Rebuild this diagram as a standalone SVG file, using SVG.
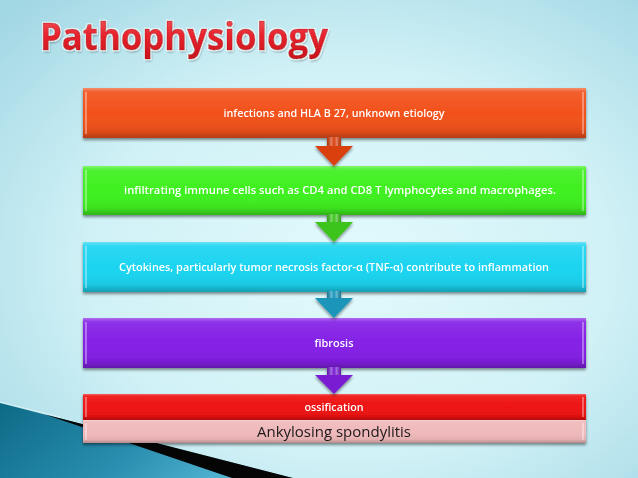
<svg xmlns="http://www.w3.org/2000/svg" width="638" height="478" viewBox="0 0 638 478">
<defs>
  <radialGradient id="bg" cx="0.55" cy="0.55" r="0.75">
    <stop offset="0" stop-color="#e2fafc"/>
    <stop offset="0.55" stop-color="#d0f1f6"/>
    <stop offset="1" stop-color="#a2d7e4"/>
  </radialGradient>
  <linearGradient id="teal" x1="0" y1="0" x2="1" y2="0.3">
    <stop offset="0" stop-color="#0d6a86"/>
    <stop offset="0.6" stop-color="#2a8fb0"/>
    <stop offset="1" stop-color="#55b5d3"/>
  </linearGradient>
  <linearGradient id="titleFill" x1="0" y1="0" x2="0" y2="1">
    <stop offset="0" stop-color="#f4636a"/>
    <stop offset="0.5" stop-color="#e7232d"/>
    <stop offset="1" stop-color="#c4101a"/>
  </linearGradient>
  <linearGradient id="gloss" x1="0" y1="0" x2="0" y2="1">
    <stop offset="0" stop-color="#fff" stop-opacity="0.35"/>
    <stop offset="0.08" stop-color="#fff" stop-opacity="0.08"/>
    <stop offset="0.5" stop-color="#fff" stop-opacity="0"/>
    <stop offset="0.85" stop-color="#000" stop-opacity="0.06"/>
    <stop offset="1" stop-color="#000" stop-opacity="0.25"/>
  </linearGradient>
  <linearGradient id="shaftGloss" x1="0" y1="0" x2="1" y2="0">
    <stop offset="0" stop-color="#000" stop-opacity="0.15"/>
    <stop offset="0.3" stop-color="#fff" stop-opacity="0.35"/>
    <stop offset="0.5" stop-color="#fff" stop-opacity="0"/>
    <stop offset="0.7" stop-color="#fff" stop-opacity="0.35"/>
    <stop offset="1" stop-color="#000" stop-opacity="0.15"/>
  </linearGradient>
  <filter id="shadow" x="-5%" y="-20%" width="110%" height="150%">
    <feGaussianBlur in="SourceAlpha" stdDeviation="1.5"/>
    <feOffset dx="0" dy="2" result="b"/>
    <feComponentTransfer><feFuncA type="linear" slope="0.45"/></feComponentTransfer>
    <feMerge><feMergeNode/><feMergeNode in="SourceGraphic"/></feMerge>
  </filter>
  <filter id="tshadow" x="-5%" y="-20%" width="110%" height="150%">
    <feMorphology in="SourceAlpha" operator="dilate" radius="1" result="d"/>
    <feFlood flood-color="#ffffff" flood-opacity="0.7"/>
    <feComposite in2="d" operator="in" result="glow"/>
    <feGaussianBlur in="SourceAlpha" stdDeviation="1"/>
    <feOffset dx="1" dy="1.5"/>
    <feComponentTransfer result="sh"><feFuncA type="linear" slope="0.35"/></feComponentTransfer>
    <feMerge><feMergeNode in="sh"/><feMergeNode in="glow"/><feMergeNode in="SourceGraphic"/></feMerge>
  </filter>
</defs>
<style>
  .lbl { font-family: "Open Sans", "DejaVu Sans", sans-serif; font-size: 10px; font-weight: 600; fill: #ffffff; text-anchor: middle; }
  .dark { fill: #1a1a1a; font-size: 14px; font-weight: 500; }
  .box { filter: url(#shadow); }
  .edge { fill: #ffffff; opacity: 0.35; }
  .gl { fill: url(#gloss); }
  .arrow { stroke: none; filter: url(#shadow); }
</style>

<!-- background -->
<rect x="0" y="0" width="638" height="478" fill="url(#bg)"/>
<polygon points="0,403 292,478 0,478" fill="url(#teal)"/>
<line x1="0" y1="402" x2="60" y2="417" stroke="#ffffff" stroke-opacity="0.5" stroke-width="1"/>
<polygon points="45,414.5 293,478 232,478" fill="#050505"/>

<!-- title -->
<g id="title">
  <text x="40" y="50" font-family="'Open Sans', 'Liberation Sans', sans-serif" font-weight="700" font-size="37" textLength="288" lengthAdjust="spacingAndGlyphs" fill="url(#titleFill)" stroke="#a80e16" stroke-width="0.5" filter="url(#tshadow)">Pathophysiology</text>
</g>

<!-- nodes -->
<g id="node1" class="box">
  <rect x="83" y="88" width="503" height="50" fill="#f2511b"/>
  <rect x="83" y="88" width="503" height="50" class="gl"/>
  <rect x="85" y="92" width="2" height="42" class="edge"/>
  <rect x="582" y="92" width="2" height="42" class="edge"/>
  <text x="334" y="117" class="lbl" textLength="221" lengthAdjust="spacingAndGlyphs">infections and HLA B 27, unknown etiology</text>
</g>
<g id="node2" class="box">
  <rect x="83" y="166" width="503" height="49" fill="#3ff01f"/>
  <rect x="83" y="166" width="503" height="49" class="gl"/>
  <rect x="85" y="170" width="2" height="41" class="edge"/>
  <rect x="582" y="170" width="2" height="41" class="edge"/>
  <text x="340" y="194" class="lbl" textLength="432" lengthAdjust="spacingAndGlyphs">infiltrating immune cells such as CD4 and CD8 T lymphocytes and macrophages.</text>
</g>
<g id="node3" class="box">
  <rect x="83" y="242" width="503" height="50" fill="#1cd4f0"/>
  <rect x="83" y="242" width="503" height="50" class="gl"/>
  <rect x="85" y="246" width="2" height="42" class="edge"/>
  <rect x="582" y="246" width="2" height="42" class="edge"/>
  <text x="334" y="271" class="lbl" textLength="430" lengthAdjust="spacingAndGlyphs">Cytokines, particularly tumor necrosis factor-α (TNF-α) contribute to inflammation</text>
</g>
<g id="node4" class="box">
  <rect x="83" y="318" width="503" height="50" fill="#8420e6"/>
  <rect x="83" y="318" width="503" height="50" class="gl"/>
  <rect x="85" y="322" width="2" height="42" class="edge"/>
  <rect x="582" y="322" width="2" height="42" class="edge"/>
  <text x="334" y="347" class="lbl" textLength="39" lengthAdjust="spacingAndGlyphs">fibrosis</text>
</g>
<g id="node5" class="box">
  <rect x="83" y="394" width="503" height="26" fill="#ee1111"/>
  <rect x="83" y="394" width="503" height="26" class="gl"/>
  <rect x="85" y="397" width="2" height="20" class="edge"/>
  <rect x="582" y="397" width="2" height="20" class="edge"/>
  <text x="334" y="411" class="lbl" textLength="59" lengthAdjust="spacingAndGlyphs">ossification</text>
</g>
<g id="node6" class="box">
  <rect x="83" y="420" width="503" height="23" fill="#f0b9bb"/>
  <rect x="83" y="420" width="503" height="23" class="gl"/>
  <rect x="85" y="423" width="2" height="17" class="edge"/>
  <rect x="582" y="423" width="2" height="17" class="edge"/>
  <text x="334" y="437" class="lbl dark" textLength="154" lengthAdjust="spacingAndGlyphs">Ankylosing spondylitis</text>
</g>

<!-- connectors -->
<g id="connectors">
  <path class="arrow" d="M327,137 H341 V146 H353 L334,166 L315,146 H327 Z" fill="#d9400f"/>
  <rect x="327" y="137" width="14" height="9" fill="url(#shaftGloss)"/>
  <path class="arrow" d="M327,214 H341 V222 H353 L334,242 L315,222 H327 Z" fill="#3cc41c"/>
  <rect x="327" y="214" width="14" height="8" fill="url(#shaftGloss)"/>
  <path class="arrow" d="M327,291 H341 V298 H353 L334,318 L315,298 H327 Z" fill="#1a95bb"/>
  <rect x="327" y="291" width="14" height="7" fill="url(#shaftGloss)"/>
  <path class="arrow" d="M327,367 H341 V375 H353 L334,394 L315,375 H327 Z" fill="#7a1fd2"/>
  <rect x="327" y="367" width="14" height="8" fill="url(#shaftGloss)"/>
</g>
</svg>
